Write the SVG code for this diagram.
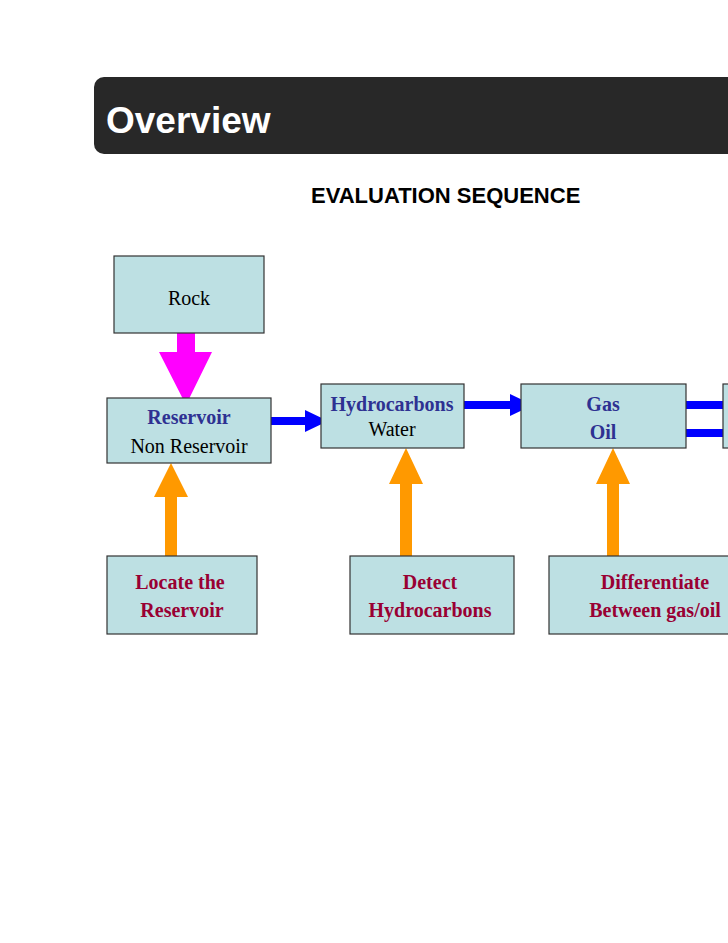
<svg xmlns="http://www.w3.org/2000/svg" width="728" height="943" viewBox="0 0 728 943">
<style>
.box{fill:#bde0e3;stroke:#333;stroke-width:1.2}
.t{font-family:"Liberation Serif",serif;font-size:20px;text-anchor:middle}
.nv{fill:#2e3192;font-weight:bold}
.rd{fill:#990033;font-weight:bold}
.bl{fill:#0000ff}
.or{fill:#ff9900}
</style>
<rect width="728" height="943" fill="#fff"/>
<rect x="94" y="77" width="660" height="77" rx="10" fill="#282828"/>
<text x="106" y="133" font-family="Liberation Sans,Arial,sans-serif" font-size="37" font-weight="bold" fill="#fff">Overview</text>
<text x="311" y="203" font-family="Liberation Sans,Arial,sans-serif" font-size="22" font-weight="bold" fill="#000">EVALUATION SEQUENCE</text>
<g id="connectors">
<path d="M177,327H195V352H212L186,405L159,352H177Z" fill="#ff00ff"/>
<path d="M250,417H305V410L328,421L305,432V425H250Z" class="bl"/>
<path d="M455,401H510V394L533,405L510,416V409H455Z" class="bl"/>
<rect x="637" y="401" width="91" height="8" class="bl"/>
<rect x="637" y="429" width="91" height="8" class="bl"/>
<path d="M165,556V497H154L171,463L188,497H177V556Z" class="or"/>
<path d="M400,556V484H389L406,448L423,484H412V556Z" class="or"/>
<path d="M607,556V484H596L613,448L630,484H619V556Z" class="or"/>
</g>
<g id="rock"><rect x="114" y="256" width="150" height="77" class="box"/><text x="189" y="305" class="t" font-size="24">Rock</text></g>
<g id="reservoir"><rect x="107" y="398" width="164" height="65" class="box"/><text x="189" y="424" class="t nv">Reservoir</text><text x="189" y="453" class="t">Non Reservoir</text></g>
<g id="hydro"><rect x="321" y="384" width="143" height="64" class="box"/><text x="392" y="411" class="t nv" font-size="18">Hydrocarbons</text><text x="392" y="436" class="t" font-size="16">Water</text></g>
<g id="gasoil"><rect x="521" y="384" width="165" height="64" class="box"/><text x="603" y="411" class="t nv">Gas</text><text x="603" y="439" class="t nv">Oil</text></g>
<g id="next"><rect x="723" y="384" width="30" height="64" class="box"/></g>
<g id="locate"><rect x="107" y="556" width="150" height="78" class="box"/><text x="180" y="589" class="t rd">Locate the</text><text x="182" y="617" class="t rd">Reservoir</text></g>
<g id="detect"><rect x="350" y="556" width="164" height="78" class="box"/><text x="430" y="589" class="t rd">Detect</text><text x="430" y="617" class="t rd">Hydrocarbons</text></g>
<g id="diff"><rect x="549" y="556" width="200" height="78" class="box"/><text x="655" y="589" class="t rd">Differentiate</text><text x="655" y="617" class="t rd">Between gas/oil</text></g>
</svg>
